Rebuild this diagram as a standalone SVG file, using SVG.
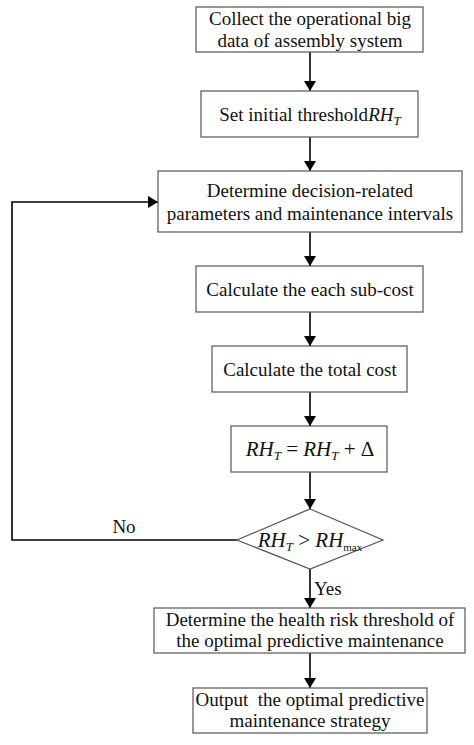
<svg xmlns="http://www.w3.org/2000/svg" width="474" height="745" viewBox="0 0 474 745">
<style>
.box{fill:#fff;stroke:#555;stroke-width:1.2}
.t{font-family:"Liberation Serif","Times New Roman",serif;font-size:19px;fill:#111;text-anchor:middle}
.eq{font-size:21px}
.m{font-style:italic}
.s{font-size:13px}
.c{fill:none;stroke:#000;stroke-width:1.6}
</style>
<defs>
<marker id="ah" viewBox="0 0 10 12" refX="10" refY="6" markerWidth="10" markerHeight="12" markerUnits="userSpaceOnUse" orient="auto">
<path d="M0,0 L10,6 L0,12 z" fill="#000"/>
</marker>
</defs>
<rect width="474" height="745" fill="#fff"/>
<g id="connectors">
<line class="c" x1="310" y1="52" x2="310" y2="91" marker-end="url(#ah)"/>
<line class="c" x1="310" y1="137" x2="310" y2="171" marker-end="url(#ah)"/>
<line class="c" x1="310" y1="232" x2="310" y2="266" marker-end="url(#ah)"/>
<line class="c" x1="310" y1="312" x2="310" y2="346" marker-end="url(#ah)"/>
<line class="c" x1="310" y1="392" x2="310" y2="426" marker-end="url(#ah)"/>
<line class="c" x1="310" y1="472" x2="310" y2="509" marker-end="url(#ah)"/>
<line class="c" x1="310" y1="569" x2="310" y2="608" marker-end="url(#ah)"/>
<line class="c" x1="310" y1="653" x2="310" y2="688" marker-end="url(#ah)"/>
<polyline class="c" points="237,540 12,540 12,202 158,202" marker-end="url(#ah)"/>
<text class="t" x="124" y="533">No</text>
<text class="t" x="314" y="595" style="text-anchor:start">Yes</text>
</g>
<g id="n1">
<rect class="box" x="196" y="7" width="227" height="45"/>
<text class="t" x="310" y="25">Collect the operational big</text>
<text class="t" x="310" y="47">data of assembly system</text>
</g>
<g id="n2">
<rect class="box" x="201" y="91" width="217" height="46"/>
<text class="t" x="310" y="121">Set initial threshold<tspan class="m">RH</tspan><tspan class="m s" dy="4">T</tspan></text>
</g>
<g id="n3">
<rect class="box" x="158" y="171" width="304" height="61"/>
<text class="t" x="310" y="197">Determine decision-related</text>
<text class="t" x="310" y="220">parameters and maintenance intervals</text>
</g>
<g id="n4">
<rect class="box" x="196" y="266" width="227" height="46"/>
<text class="t" x="310" y="296">Calculate the each sub-cost</text>
</g>
<g id="n5">
<rect class="box" x="212" y="346" width="195" height="46"/>
<text class="t" x="310" y="376">Calculate the total cost</text>
</g>
<g id="n6">
<rect class="box" x="231" y="426" width="156" height="46"/>
<text class="t eq" x="310" y="456"><tspan class="m">RH</tspan><tspan class="m s" dy="4">T</tspan><tspan dy="-4"> = </tspan><tspan class="m">RH</tspan><tspan class="m s" dy="4">T</tspan><tspan dy="-4"> + Δ</tspan></text>
</g>
<g id="n7">
<polygon class="box" points="310,509 383,540 310,569 237,540"/>
<text class="t eq" x="310" y="547"><tspan class="m">RH</tspan><tspan class="m s" dy="4">T</tspan><tspan dy="-4"> &gt; </tspan><tspan class="m">RH</tspan><tspan style="font-size:11px" dy="4">max</tspan></text>
</g>
<g id="n8">
<rect class="box" x="154" y="608" width="311" height="45"/>
<text class="t" x="310" y="626">Determine the health risk threshold of</text>
<text class="t" x="310" y="647">the optimal predictive maintenance</text>
</g>
<g id="n9">
<rect class="box" x="193" y="688" width="234" height="45"/>
<text class="t" x="310" y="706" xml:space="preserve">Output  the optimal predictive</text>
<text class="t" x="310" y="727">maintenance strategy</text>
</g>
</svg>
